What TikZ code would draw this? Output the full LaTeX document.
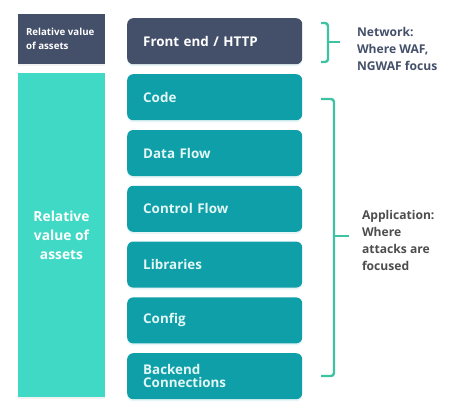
\documentclass[tikz,border=0pt]{standalone}
\usepackage{fontspec}
\setmainfont{Open Sans}
\usepackage{tikz}
\usepackage{xcolor}
\usetikzlibrary{positioning,shadows}
\definecolor{slate}{HTML}{44506A}
\definecolor{layerteal}{HTML}{0F9FA8}
\definecolor{mint}{HTML}{40D9C5}
\definecolor{bracegreen}{HTML}{3DC3A2}
\definecolor{paletext}{HTML}{E2F7F6}
\definecolor{greytext}{HTML}{4D4D4D}

\begin{document}
\begin{tikzpicture}[
  x=1pt, y=-1pt,
  every node/.style={font=\bfseries},
  layer/.style={draw=none,rectangle,rounded corners=6pt,anchor=north west,
    minimum width=175pt,minimum height=46pt,inner xsep=16pt,
    text width=143pt,align=left,fill=layerteal,text=paletext,
    font=\bfseries\fontsize{13.4}{12.5}\selectfont,
    drop shadow={shadow xshift=0pt,shadow yshift=-2pt,opacity=0.10,fill=layerteal}},
  valbox/.style={rectangle,anchor=north west,minimum width=87pt,text=white,
    drop shadow={shadow xshift=0pt,shadow yshift=-2pt,opacity=0.10,fill=gray}},
  note/.style={anchor=west,align=left,font=\bfseries\fontsize{12.1}{17}\selectfont},
  brc/.style={draw=bracegreen,line width=2.4pt,rounded corners=3pt}
]
\useasboundingbox (0,0) rectangle (474,420);

% left column
\node[valbox,fill=slate,minimum height=50pt] (val) at (18,14) {};
\node[anchor=west,align=left,text=white,font=\bfseries\fontsize{9.7}{14}\selectfont]
  (vallbl) at (22.5,39) {Relative value\\of assets};
\node[valbox,fill=mint,minimum height=324pt] (val2) at (18,73) {};
\node[align=center,text=white,font=\bfseries\fontsize{13.8}{19}\selectfont]
  (val2lbl) at (61.5,235) {Relative\\value of\\assets};

% layers
\node[layer,fill=slate,text=white,font=\bfseries\fontsize{13.4}{13}\selectfont] (fe) at (127,18) {Front end / HTTP};
\foreach \lbl [count=\i] in {Code,Data Flow,Control Flow,Libraries,Config,Backend\\Connections}
  \node[layer] (l\i) at (127,{74+55.8*(\i-1)}) {\lbl};

% braces
\draw[brc] (321,23) -- (328,23) -- (328,62) -- (321,62);
\draw[brc,rounded corners=0pt] (328,42) -- (340,42);
\draw[brc] (321,99) -- (334,99) -- (334,376) -- (321,376);
\draw[brc,rounded corners=0pt] (334,236) -- (349,236);

% notes
\node[note,text=slate] (net) at (353.5,49) {Network:\\Where WAF,\\NGWAF focus};
\node[note,text=greytext] (app) at (358.5,240) {Application:\\Where\\attacks are\\focused};
\end{tikzpicture}
\end{document}
